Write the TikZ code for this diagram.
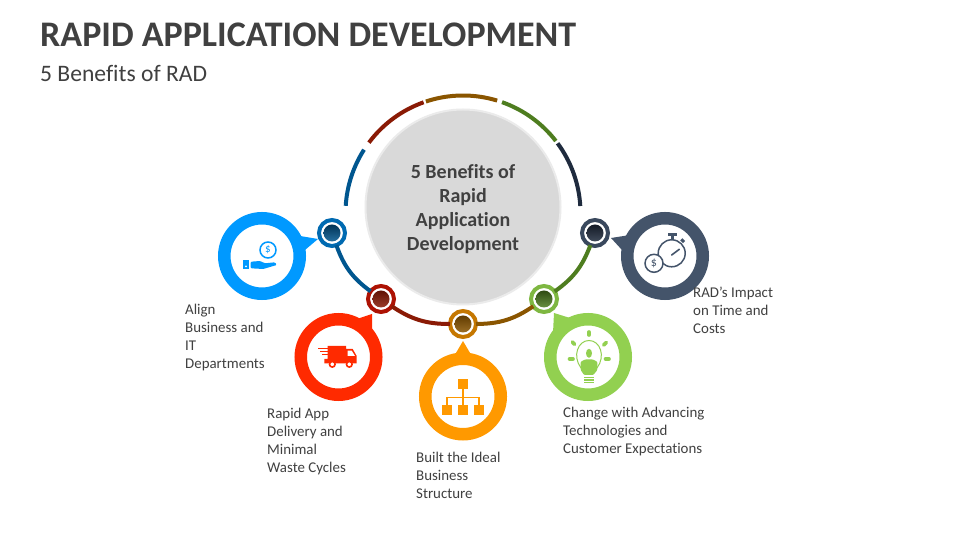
\documentclass[tikz,border=0pt]{standalone}
\usepackage{fontspec}
\setmainfont[Ligatures=NoCommon]{Carlito}

\definecolor{txtgray}{HTML}{404040}
\definecolor{bluebub}{HTML}{0099FF}
\definecolor{redbub}{HTML}{FF2A00}
\definecolor{orangebub}{HTML}{FF9900}
\definecolor{greenbub}{HTML}{92D050}
\definecolor{slatebub}{HTML}{44546A}
\definecolor{bluearc}{HTML}{00568F}
\definecolor{redarc}{HTML}{8A1A05}
\definecolor{brownarc}{HTML}{8A5500}
\definecolor{greenarc}{HTML}{4E7D1F}
\definecolor{slatearc}{HTML}{1F2B3E}

\tikzset{
  bubble/.style={circle, draw=#1, line width=12.5pt, fill=white, inner sep=0pt, outer sep=0pt, minimum size=75.5pt},
  ring/.style={circle, draw=#1, line width=4pt, fill=white, inner sep=0pt, outer sep=0pt, minimum size=26pt},
  ball/.style 2 args={circle, inner sep=0pt, minimum size=17pt, top color=#1, bottom color=#2},
  label/.style={anchor=north west, align=left, inner sep=0pt, text=txtgray, font=\fontsize{14.9pt}{18pt}\selectfont},
  seg/.style={line width=4pt},
  org/.style={fill=orangebub, inner sep=0pt, minimum size=10pt}
}

\begin{document}
\begin{tikzpicture}[x=1pt, y=1pt]

    \useasboundingbox[fill=white] (0,0) rectangle (960,540);

    % title
    \node[anchor=west, inner sep=0pt, text=txtgray, font=\fontsize{36pt}{40pt}\selectfont\bfseries] (title) at (40,505) {RAPID APPLICATION DEVELOPMENT};
    \node[anchor=west, inner sep=0pt, text=txtgray, font=\fontsize{23.6pt}{26pt}\selectfont] (subtitle) at (40,467) {5 Benefits of RAD};

    % centre
    \node[circle, fill=black!15, draw=black!8, line width=2pt, inner sep=0pt, outer sep=0pt, minimum size=195pt] (centre) at (463,333) {};
    \node[align=center, inner sep=0pt, text=txtgray, font=\fontsize{20pt}{24pt}\selectfont\bfseries] (centretxt) at (463,331) {5 Benefits of\\Rapid\\Application\\Development};

    % upper arcs
    \draw[seg, bluearc] (463,327) ++(176.5:117.5) arc[start angle=176.5, end angle=147.4, radius=117.5];
    \draw[seg, redarc] (463,327) ++(143.2:117.5) arc[start angle=143.2, end angle=109.6, radius=117.5];
    \draw[seg, brownarc] (463,327) ++(108.4:117.5) arc[start angle=108.4, end angle=73.1, radius=117.5];
    \draw[seg, greenarc] (463,327) ++(70.6:117.5) arc[start angle=70.6, end angle=37.8, radius=117.5];
    \draw[seg, slatearc] (463,327) ++(36.4:117.5) arc[start angle=36.4, end angle=3.4, radius=117.5];

    % small rings
    \node[ring=bluebub!30!bluearc] (r1) at (332,307) {};
    \node[ring=redarc!70!red] (r2) at (381,241) {};
    \node[ring=orangebub!50!brownarc] (r3) at (463,216) {};
    \node[ring=greenbub!70!greenarc] (r4) at (544,241) {};
    \node[ring=slatebub!70!slatearc] (r5) at (595,307) {};

    \node[ball={bluearc!60!black}{bluearc!85!white}] (b1) at (r1) {};
    \node[ball={redarc!70!black}{redarc!85!white}] (b2) at (r2) {};
    \node[ball={brownarc!70!black}{brownarc!85!white}] (b3) at (r3) {};
    \node[ball={greenarc!60!black}{greenarc!85!white}] (b4) at (r4) {};
    \node[ball={slatearc!60!black}{slatearc!85!white}] (b5) at (r5) {};

    \draw[seg, bluearc] (r1) to[bend right=17] (r2);
    \draw[seg, redarc] (r2) to[bend right=17] (r3);
    \draw[seg, brownarc] (r3) to[bend right=17] (r4);
    \draw[seg, greenarc] (r4) to[bend right=17] (r5);

    % tails
    \fill[bluebub] (300,304) -- (318,301) -- (305,290) -- cycle;
    \fill[redbub] (357,221) -- (372,226) -- (372,210) -- cycle;
    \fill[orangebub] (453,182) -- (463,199) -- (473,182) -- cycle;
    \fill[greenbub] (553,207) -- (554,227) -- (570,222) -- cycle;
    \fill[slatebub] (630,305) -- (611,302) -- (622,290) -- cycle;

    % bubbles
    \node[bubble=bluebub] (c1) at (262,284) {};
    \node[bubble=redbub] (c2) at (338.5,183) {};
    \node[bubble=orangebub] (c3) at (463,143.5) {};
    \node[bubble=greenbub] (c4) at (588,183) {};
    \node[bubble=slatebub] (c5) at (665,284) {};

    % hand and coin
    \node[circle, draw=bluebub, line width=1.5pt, minimum size=16pt, inner sep=0pt, text=bluebub, font=\fontsize{11pt}{11pt}\selectfont] (coin) at (268,290) {\$};
    \fill[bluebub] (243,271) rectangle (249,280);
    \fill[white] (246,273.5) circle (1);
    \fill[bluebub, rounded corners=1pt] (250.7,278.3) -- (260,279) -- (265,276.7) -- (275,277.7) -- (276.7,275) -- (263.3,271) -- (250.7,271.7) -- cycle;

    % truck
    \fill[redbub] (327.7,194) -- (346,194) -- (346,191) -- (352.7,191) -- (356.7,184) -- (356.7,176.7) -- (324.3,176.7) -- (324.3,181) -- (327.7,181) -- cycle;
    \fill[white] (347.7,189.3) -- (351.7,189.3) -- (355,184) -- (347.7,184) -- cycle;
    \draw[redbub, line width=1pt] (318.3,191) -- (328,191);
    \draw[redbub, line width=1pt] (320,188.3) -- (328,188.3);
    \draw[redbub, line width=1pt] (322,185.5) -- (328,185.5);
    \draw[redbub, fill=white, line width=1.6pt] (332.3,175.7) circle (2.8);
    \draw[redbub, fill=white, line width=1.6pt] (349.3,175.7) circle (2.8);

    % org chart
    \node[org] (otop) at (463,156) {};
    \node[org] (oleft) at (447,129.7) {};
    \node[org] (omid) at (463,129.7) {};
    \node[org] (oright) at (479,129.7) {};
    \draw[orangebub, line width=1.2pt] (otop) -- (omid);
    \draw[orangebub, line width=1.2pt] (oleft) |- (otop |- 0,142.7) -| (oright);

    % bulb
    \draw[greenbub, line width=1pt] (581,172) .. controls (572,184) and (578,199.5) .. (589,199.5) .. controls (600,199.5) and (606,184) .. (597,172);
    \fill[greenbub] (589,186.7) ellipse (3 and 4.5);
    \fill[greenbub, rounded corners=1pt] (580.7,178.3) -- (585,180.5) -- (593,180.5) -- (597.3,178.3) -- (597.3,170) -- (593.3,165) -- (584,165) -- (580.7,170) -- cycle;
    \foreach \ybar in {162.5,160,157.5}
      \draw[greenbub, line width=1.2pt] (584,\ybar) -- (593.5,\ybar);
    \draw[greenbub, line width=3.6pt, line cap=round] (589,205) -- (589,208);
    \draw[greenbub, line width=3.6pt, line cap=round] (572.3,198) -- (574.5,195.7);
    \draw[greenbub, line width=3.6pt, line cap=round] (606.3,197.5) -- (603.7,195);
    \draw[greenbub, line width=3.6pt, line cap=round] (569.5,181) -- (573,181);
    \draw[greenbub, line width=3.6pt, line cap=round] (605.5,181) -- (609,181);

    % stopwatch
    \node[circle, draw=slatebub, fill=white, line width=1.5pt, minimum size=27pt, inner sep=0pt] (watch) at (671.7,286.7) {};
    \node[circle, draw=slatebub, fill=white, line width=1.5pt, minimum size=18pt, inner sep=0pt, text=slatebub, font=\fontsize{12pt}{12pt}\selectfont] (coinb) at (654,276.7) {\$};
    \fill[slatebub] (668.3,303.7) rectangle (676.7,306.7);
    \fill[slatebub] (670.5,300) rectangle (674,304);
    \fill[slatebub, rotate around={-45:(682.7,299.3)}] (680.7,297.8) rectangle (684.7,300.8);
    \draw[slatebub, line width=1.6pt, line cap=round] (671.7,285) -- (679.3,290.7);

    % labels
    \node[label] (l1) at (185,236.5) {Align\\Business and\\IT\\Departments};
    \node[label] (l2) at (267,132.5) {Rapid App\\Delivery and\\Minimal\\Waste Cycles};
    \node[label] (l3) at (416,88.5) {Built the Ideal\\Business\\Structure};
    \node[label] (l4) at (563,133) {Change with Advancing\\Technologies and\\Customer Expectations};
    \node[label] (l5) at (693,253) {RAD’s Impact\\on Time and\\Costs};

\end{tikzpicture}
\end{document}
